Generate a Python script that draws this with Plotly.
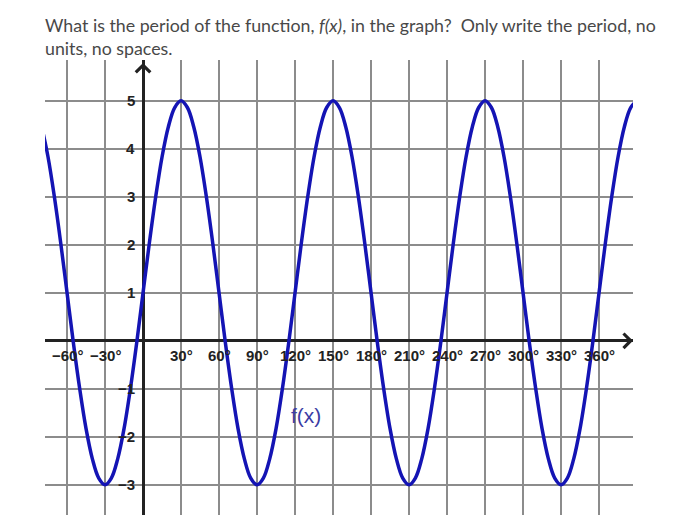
import plotly.graph_objects as go

# readings of the curve, every 5 degrees
X_DEG = [-80, -75, -70, -65, -60, -55, -50, -45, -40, -35, -30, -25, -20, -15, -10, -5,
         0, 5, 10, 15, 20, 25, 30, 35, 40, 45, 50, 55,
         60, 65, 70, 75, 80, 85, 90, 95, 100, 105, 110, 115,
         120, 125, 130, 135, 140, 145, 150, 155, 160, 165, 170, 175,
         180, 185, 190, 195, 200, 205, 210, 215, 220, 225, 230, 235,
         240, 245, 250, 255, 260, 265, 270, 275, 280, 285, 290, 295,
         300, 305, 310, 315, 320, 325, 330, 335, 340, 345, 350, 355,
         360, 365, 370, 375, 380, 385, 390]
F_X = [4.46, 3.83, 3, 2.04, 1, -0.04, -1, -1.83, -2.46, -2.86, -3, -2.86, -2.46, -1.83, -1, -0.04,
       1, 2.04, 3, 3.83, 4.46, 4.86, 5, 4.86, 4.46, 3.83, 3, 2.04,
       1, -0.04, -1, -1.83, -2.46, -2.86, -3, -2.86, -2.46, -1.83, -1, -0.04,
       1, 2.04, 3, 3.83, 4.46, 4.86, 5, 4.86, 4.46, 3.83, 3, 2.04,
       1, -0.04, -1, -1.83, -2.46, -2.86, -3, -2.86, -2.46, -1.83, -1, -0.04,
       1, 2.04, 3, 3.83, 4.46, 4.86, 5, 4.86, 4.46, 3.83, 3, 2.04,
       1, -0.04, -1, -1.83, -2.46, -2.86, -3, -2.86, -2.46, -1.83, -1, -0.04,
       1, 2.04, 3, 3.83, 4.46, 4.86, 5]

X_TICKS = [-60, -30, 30, 60, 90, 120, 150, 180, 210, 240, 270, 300, 330, 360]
X_LABELS = ['−60°', '−30°', '30°', '60°', '90°', '120°', '150°', '180°',
            '210°', '240°', '270°', '300°', '330°', '360°']
Y_TICKS = [5, 4, 3, 2, 1, -1, -2, -3]
Y_LABELS = ['5', '4', '3', '2', '1', '−1', '−2', '−3']

X_RANGE = [-77.4, 386.8]
Y_RANGE = [-3.63, 5.85]

TITLE = ("What is the period of the function, <i>f(x)</i>, in the graph?&nbsp; Only write the period, no"
         "<br>units, no spaces.")

fig = go.Figure()

fig.add_trace(go.Scatter(
    x=X_DEG, y=F_X,
    mode='lines',
    line=dict(color='#1414b4', width=3.5, shape='spline', smoothing=1),
    hoverinfo='none',
    showlegend=False,
))

tick_font = dict(family='Liberation Sans', size=15, color='#222222')
annotations = []
for t, lab in zip(X_TICKS, X_LABELS):
    annotations.append(dict(x=t, y=0, xref='x', yref='y', text='<b>' + lab + '</b>',
                            showarrow=False, yanchor='middle', yshift=-15, font=tick_font))
for t, lab in zip(Y_TICKS, Y_LABELS):
    annotations.append(dict(x=0, y=t, xref='x', yref='y', text='<b>' + lab + '</b>',
                            showarrow=False, xanchor='right', xshift=-6, font=tick_font))

# axis arrows
annotations.append(dict(x=X_RANGE[1], y=0, ax=X_RANGE[1] - 20, ay=0, xref='x', yref='y',
                        axref='x', ayref='y', text='', showarrow=True,
                        arrowhead=4, arrowsize=1.4, arrowwidth=2, arrowcolor='#222222'))
annotations.append(dict(x=0, y=5.79, ax=0, ay=5.3, xref='x', yref='y',
                        axref='x', ayref='y', text='', showarrow=True,
                        arrowhead=4, arrowsize=1.4, arrowwidth=2, arrowcolor='#222222'))

# function label
annotations.append(dict(x=129, y=-1.56, xref='x', yref='y', text='f(x)', showarrow=False,
                        font=dict(family='Liberation Sans', size=21, color='#3c3ca4')))

# question text
annotations.append(dict(x=0, y=1, xref='paper', yref='paper', text=TITLE, showarrow=False,
                        xanchor='left', yanchor='bottom', align='left', yshift=-1, xshift=-2,
                        font=dict(family='Lato', size=17.8, color='#484848')))

# page body has an 8px margin, so the figure is sized to fit the window inside it
fig.update_layout(
    width=684, height=515,
    margin=dict(l=37, r=59, t=52, b=8),
    paper_bgcolor='white',
    plot_bgcolor='white',
    annotations=annotations,
    showlegend=False,
)
fig.update_xaxes(
    range=X_RANGE, tick0=0, dtick=30, showticklabels=False, ticks='',
    showgrid=True, gridcolor='#8c8c8c', gridwidth=1.5,
    zeroline=True, zerolinecolor='#222222', zerolinewidth=2.5,
    showline=False, fixedrange=True,
)
fig.update_yaxes(
    range=Y_RANGE, tick0=0, dtick=1, showticklabels=False, ticks='',
    showgrid=True, gridcolor='#8c8c8c', gridwidth=1.5,
    zeroline=True, zerolinecolor='#222222', zerolinewidth=2.5,
    showline=False, fixedrange=True,
)

fig.write_html("out.html")
